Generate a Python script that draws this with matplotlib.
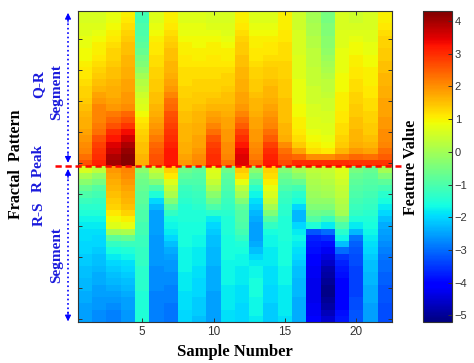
import numpy as np
import matplotlib.pyplot as plt

# feature values, one list per sample (top row first)
# Q-R segment: rows 1-25 (above the R peak line)
qr_cols = [
    [0.6,0.6,0.7,0.7,0.8, 0.8,0.9,0.9,1.0,1.1, 1.1,1.2,1.3,1.3,1.4, 1.5,1.6,1.7,1.7,1.8, 1.9,2.0,2.1,2.3,2.6],
    [0.6,0.6,0.7,0.8,0.9, 1.0,1.0,1.1,1.2,1.3, 1.4,1.5,1.6,1.8,1.9, 2.1,2.1,2.1,2.2,2.3, 2.6,2.8,2.9,3.0,3.1],
    [0.8,0.8,0.9,1.0,1.1, 1.2,1.3,1.3,1.4,1.5, 1.5,1.6,1.7,1.7,1.8, 1.9,2.2,2.4,2.6,3.0, 3.2,3.5,3.7,3.9,4.0],
    [1.0,1.1,1.2,1.3,1.4, 1.5,1.5,1.6,1.6,1.7, 1.7,1.8,1.8,1.9,1.9, 2.0,2.4,2.6,2.9,3.3, 3.6,3.9,4.1,4.2,4.2],
    [-1.1,-1.1,-1.0,-1.0,-0.9, -0.8,-0.7,-0.5,-0.4,-0.2, 0.0,0.2,0.3,0.5,0.6, 0.7,0.9,1.1,1.2,1.3, 1.4,1.5,1.5,1.6,1.7],
    [0.7,0.7,0.8,0.9,1.0, 1.1,1.1,1.2,1.2,1.3, 1.3,1.4,1.4,1.5,1.5, 1.6,1.7,1.8,1.9,2.0, 2.2,2.4,2.5,2.6,2.7],
    [1.0,1.0,1.1,1.2,1.3, 1.4,1.5,1.5,1.6,1.6, 1.7,1.8,1.9,2.1,2.3, 2.4,2.6,2.7,2.8,2.9, 3.0,3.1,3.2,3.2,3.2],
    [0.7,0.7,0.8,0.8,0.9, 1.0,1.0,1.1,1.1,1.2, 1.2,1.2,1.3,1.3,1.4, 1.4,1.5,1.5,1.6,1.6, 1.6,1.7,1.7,1.8,1.9],
    [0.7,0.7,0.8,0.8,0.9, 0.9,1.0,1.0,1.1,1.2, 1.2,1.3,1.3,1.4,1.4, 1.5,1.6,1.6,1.7,1.7, 1.8,1.8,1.9,2.0,2.1],
    [0.6,0.6,0.7,0.8,0.9, 1.0,1.0,1.1,1.1,1.2, 1.2,1.3,1.3,1.4,1.5, 1.6,1.8,1.9,2.1,2.3, 2.6,2.8,2.9,3.0,3.0],
    [0.6,0.6,0.7,0.7,0.8, 0.9,1.0,1.0,1.1,1.2, 1.3,1.3,1.4,1.5,1.5, 1.6,1.7,1.8,1.8,1.9, 1.9,2.0,2.0,2.1,2.3],
    [1.0,1.0,1.1,1.2,1.3, 1.4,1.4,1.5,1.5,1.6, 1.6,1.7,1.7,1.8,1.8, 1.9,2.1,2.3,2.5,2.8, 3.0,3.2,3.4,3.5,3.5],
    [0.7,0.7,0.8,0.9,1.0, 1.0,1.1,1.1,1.2,1.3, 1.3,1.4,1.4,1.5,1.6, 1.6,1.7,1.8,1.8,1.9, 1.9,2.0,2.1,2.2,2.4],
    [0.7,0.7,0.8,0.9,1.0, 1.1,1.1,1.2,1.3,1.4, 1.4,1.5,1.6,1.6,1.7, 1.8,1.9,2.0,2.1,2.3, 2.5,2.8,3.0,3.1,3.2],
    [1.0,1.0,1.0,1.1,1.1, 1.2,1.2,1.2,1.3,1.3, 1.3,1.4,1.4,1.4,1.5, 1.5,1.5,1.5,1.6,1.6, 1.7,2.0,2.3,2.5,2.7],
    [0.5,0.5,0.5,0.6,0.6, 0.6,0.6,0.7,0.7,0.7, 0.7,0.8,0.8,0.8,0.8, 0.9,0.9,1.0,1.0,1.1, 1.2,1.4,1.8,2.4,3.0],
    [0.0,0.0,0.1,0.1,0.2, 0.2,0.3,0.3,0.3,0.4, 0.4,0.4,0.5,0.5,0.5, 0.6,0.6,0.7,0.7,0.8, 0.9,1.0,1.2,2.0,3.0],
    [-0.5,-0.5,-0.4,-0.4,-0.3, -0.3,-0.2,-0.1,0.0,0.1, 0.2,0.3,0.3,0.4,0.5, 0.5,0.6,0.6,0.7,0.7, 0.8,0.9,1.1,2.0,3.0],
    [0.6,0.6,0.6,0.7,0.7, 0.7,0.8,0.8,0.8,0.8, 0.9,0.9,0.9,1.0,1.0, 1.0,1.1,1.1,1.2,1.2, 1.3,1.4,1.6,2.2,3.0],
    [0.5,0.5,0.6,0.7,0.8, 0.9,0.9,1.0,1.0,1.1, 1.1,1.2,1.2,1.3,1.3, 1.4,1.4,1.5,1.5,1.6, 1.6,1.7,1.9,2.4,2.9],
    [0.6,0.6,0.6,0.7,0.7, 0.8,0.8,0.9,0.9,1.0, 1.0,1.0,1.1,1.1,1.2, 1.2,1.3,1.3,1.4,1.4, 1.5,1.6,1.8,2.3,2.9],
    [1.0,1.0,1.1,1.2,1.3, 1.3,1.4,1.4,1.5,1.5, 1.6,1.6,1.7,1.7,1.8, 1.8,1.8,1.9,1.9,2.0, 2.0,2.1,2.3,2.5,2.9],
]

# R-S segment: rows 26-50 (below the R peak line)
rs_cols = [
    [0.6,0.1,-0.3,-0.7,-1.0, -1.2,-1.4,-1.5,-1.7,-1.8, -1.9,-1.9,-2.0,-2.0,-2.1, -2.1,-2.2,-2.2,-2.3,-2.3, -2.4,-2.4,-2.5,-2.5,-2.5],
    [0.3,-0.2,-0.5,-0.9,-1.1, -1.3,-1.4,-1.5,-1.7,-1.8, -1.9,-2.0,-2.0,-2.1,-2.2, -2.2,-2.3,-2.4,-2.4,-2.5, -2.5,-2.6,-2.6,-2.7,-2.7],
    [1.9,1.8,1.7,1.6,1.5, 1.4,1.3,1.1,0.9,0.7, 0.0,-0.8,-1.3,-1.6,-1.8, -2.0,-2.1,-2.2,-2.3,-2.4, -2.5,-2.6,-2.7,-2.8,-2.8],
    [2.1,2.0,1.9,1.8,1.7, 1.6,1.5,1.3,1.0,0.8, 0.1,-0.7,-1.2,-1.5,-1.7, -1.9,-2.0,-2.1,-2.2,-2.3, -2.4,-2.5,-2.5,-2.6,-2.6],
    [-0.3,-0.5,-0.6,-0.7,-0.8, -0.8,-0.9,-1.0,-1.0,-1.1, -1.1,-1.2,-1.2,-1.3,-1.3, -1.3,-1.4,-1.4,-1.4,-1.4, -1.5,-1.5,-1.5,-1.5,-1.5],
    [0.4,0.1,-0.4,-1.0,-1.5, -2.0,-2.3,-2.5,-2.5,-2.5, -2.5,-2.6,-2.6,-2.6,-2.6, -2.6,-2.7,-2.7,-2.7,-2.7, -2.8,-2.8,-2.8,-2.8,-2.8],
    [1.3,1.1,0.7,0.4,0.1, -0.4,-0.9,-1.3,-1.6,-1.7, -1.8,-2.0,-2.2,-2.4,-2.5, -2.6,-2.6,-2.7,-2.7,-2.8, -2.8,-2.8,-2.9,-2.9,-2.9],
    [-0.6,-0.8,-1.0,-1.2,-1.3, -1.4,-1.5,-1.5,-1.5,-1.6, -1.6,-1.6,-1.6,-1.7,-1.7, -1.7,-1.7,-1.8,-1.8,-1.8, -1.9,-1.9,-1.9,-2.0,-2.0],
    [-0.8,-0.9,-1.0,-1.1,-1.2, -1.3,-1.4,-1.5,-1.5,-1.6, -1.6,-1.7,-1.7,-1.8,-1.8, -1.8,-1.9,-1.9,-2.0,-2.0, -2.0,-2.1,-2.1,-2.1,-2.2],
    [0.7,0.6,0.4,0.1,-0.3, -0.6,-1.0,-1.4,-1.8,-2.0, -2.1,-2.2,-2.2,-2.3,-2.3, -2.3,-2.4,-2.4,-2.4,-2.4, -2.5,-2.5,-2.5,-2.5,-2.5],
    [-0.6,-0.8,-0.9,-1.0,-1.1, -1.2,-1.3,-1.4,-1.5,-1.5, -1.5,-1.6,-1.6,-1.6,-1.6, -1.7,-1.7,-1.7,-1.7,-1.8, -1.8,-1.8,-1.8,-1.9,-1.9],
    [1.4,1.2,0.8,0.3,0.0, -0.4,-0.8,-0.9,-0.9,-1.0, -1.1,-1.3,-1.5,-1.6,-1.7, -1.7,-1.8,-1.8,-1.8,-1.9, -1.9,-1.9,-2.0,-2.0,-2.0],
    [-0.3,-0.6,-1.0,-1.4,-1.7, -1.9,-2.1,-2.3,-2.4,-2.5, -2.5,-2.5,-2.4,-2.2,-2.0, -1.8,-1.7,-1.7,-1.6,-1.6, -1.6,-1.7,-1.7,-1.7,-1.8],
    [1.3,1.2,1.0,0.8,0.6, 0.4,0.0,-0.4,-0.9,-1.3, -1.6,-1.7,-1.7,-1.8,-1.8, -1.8,-1.9,-1.9,-1.9,-2.0, -2.0,-2.0,-2.1,-2.1,-2.1],
    [-0.4,-0.6,-0.8,-1.0,-1.2, -1.3,-1.4,-1.4,-1.5,-1.5, -1.5,-1.5,-1.6,-1.6,-1.6, -1.6,-1.7,-1.7,-1.7,-1.8, -1.8,-1.8,-1.8,-1.8,-1.9],
    [0.0,-0.3,-0.7,-1.1,-1.4, -1.6,-2.0,-2.3,-2.3,-2.0, -1.8,-1.7,-1.8,-1.9,-2.0, -2.1,-2.2,-2.2,-2.3,-2.3, -2.3,-2.4,-2.4,-2.4,-2.4],
    [0.3,0.2,0.1,0.0,-0.1, -0.2,-0.4,-0.6,-0.9,-1.5, -3.2,-3.7,-3.8,-3.9,-4.0, -4.1,-4.2,-4.2,-4.3,-4.3, -4.3,-4.3,-4.2,-4.2,-4.1],
    [0.4,0.3,0.2,0.1,0.0, -0.2,-0.4,-0.7,-1.2,-1.8, -3.0,-3.6,-3.9,-4.2,-4.4, -4.6,-4.8,-4.9,-5.0,-5.1, -5.1,-5.0,-4.9,-4.7,-4.5],
    [0.7,0.6,0.5,0.4,0.3, 0.2,0.1,0.0,-0.5,-1.0, -1.4,-1.7,-2.2,-3.0,-3.5, -3.7,-3.8,-3.9,-4.0,-4.0, -4.1,-4.1,-4.0,-3.9,-3.8],
    [-0.5,-0.7,-0.8,-0.9,-1.0, -1.1,-1.2,-1.3,-1.5,-1.8, -2.3,-2.9,-3.1,-3.2,-3.3, -3.3,-3.4,-3.4,-3.4,-3.4, -3.4,-3.3,-3.3,-3.2,-3.2],
    [-0.7,-0.8,-0.9,-1.0,-1.1, -1.2,-1.3,-1.4,-1.5,-1.6, -1.7,-1.8,-1.9,-2.0,-2.1, -2.2,-2.2,-2.3,-2.3,-2.4, -2.4,-2.4,-2.5,-2.5,-2.5],
    [0.0,-0.4,-0.8,-1.1,-1.4, -1.6,-1.8,-2.0,-2.2,-2.4, -2.5,-2.6,-2.7,-2.8,-2.9, -3.0,-3.0,-3.1,-3.1,-3.2, -3.2,-3.2,-3.3,-3.3,-3.3],
]

x_ticks = [5, 10, 15, 20]
y_ticks = [5, 10, 15, 20, 25, 30, 35, 40, 45, 50]
cbar_ticks = [-5, -4, -3, -2, -1, 0, 1, 2, 3, 4]
clim = (-5.2, 4.3)
r_peak = 25.5

# stack the two segments: rows = pattern index, columns = sample number
values = np.vstack([np.array(qr_cols).T, np.array(rs_cols).T])
n_rows, n_cols = values.shape

W, H = 474, 363
fig = plt.figure(figsize=(W / 100, H / 100), dpi=100)
ax = fig.add_axes([78 / W, 1 - 322 / H, 314 / W, 311 / H])
im = ax.imshow(values, cmap='jet', vmin=clim[0], vmax=clim[1], aspect='auto',
               interpolation='nearest', extent=(0.5, n_cols + 0.5, n_rows + 0.5, 0.5))

# red dashed line at the R peak
ax.plot([-1.1, 23.1], [r_peak, r_peak], color='red', ls=(0, (2.5, 1.5)), lw=1.8,
        clip_on=False, zorder=5)

# blue dotted arrows marking the two segments
ax_x = -0.2
for y0, y1 in [(0.8, 24.9), (25.9, 50.4)]:
    ax.plot([ax_x, ax_x], [y0 + 1, y1 - 1], color='blue', ls=':', lw=1.2, clip_on=False)
    for a, b in [(y0 + 1.5, y0), (y1 - 1.5, y1)]:
        ax.annotate('', xy=(ax_x, b), xytext=(ax_x, a), annotation_clip=False,
                    arrowprops=dict(arrowstyle='-|>', color='blue', lw=0.8,
                                    mutation_scale=9, shrinkA=0, shrinkB=0))

ax.set_xlim(0.5, n_cols + 0.5)
ax.set_ylim(n_rows + 0.5, 0.5)
ax.set_xticks(x_ticks)
ax.set_yticks(y_ticks)
ax.set_yticklabels([])
ax.tick_params(direction='in', length=3, width=0.7, top=True, right=True,
               labelsize=8.5, pad=3, colors='#333333')
for lab in ax.get_xticklabels():
    lab.set_fontfamily('Liberation Sans')
for s in ax.spines.values():
    s.set_linewidth(0.8)
    s.set_color('#333333')

ax.set_xlabel('Sample Number', family='Liberation Serif', fontweight='bold',
              fontsize=12, labelpad=4)

# colorbar
cax = fig.add_axes([423 / W, 1 - 322 / H, 29 / W, 311 / H])
cb = fig.colorbar(im, cax=cax, ticks=cbar_ticks)
cb.outline.set_linewidth(0.8)
cb.outline.set_edgecolor('#333333')
cax.tick_params(direction='in', length=3, width=0.7, labelsize=8, pad=2, colors='#333333')
for lab in cax.get_yticklabels():
    lab.set_fontfamily('Liberation Sans')

fig.text(411 / W, 1 - 167 / H, 'Feature Value', rotation=90, ha='center', va='center',
         family='Liberation Serif', fontweight='bold', fontsize=11.5)

# left side labels
serif = dict(family='Liberation Serif', fontweight='bold', rotation=90,
             ha='center', va='center')
fig.text(16 / W, 1 - 164 / H, 'Fractal  Pattern', fontsize=11.5, color='black', **serif)
fig.text(39 / W, 1 - 84 / H, 'Q-R', fontsize=11, color='#1a1adc', **serif)
fig.text(57 / W, 1 - 92 / H, 'Segment', fontsize=11, color='#1a1adc', **serif)
fig.text(39 / W, 1 - 168 / H, 'R Peak', fontsize=11, color='#1a1adc', **serif)
fig.text(39 / W, 1 - 214 / H, 'R-S', fontsize=11, color='#1a1adc', **serif)
fig.text(57 / W, 1 - 255 / H, 'Segment', fontsize=11, color='#1a1adc', **serif)

fig.savefig('out.png', dpi=100)
